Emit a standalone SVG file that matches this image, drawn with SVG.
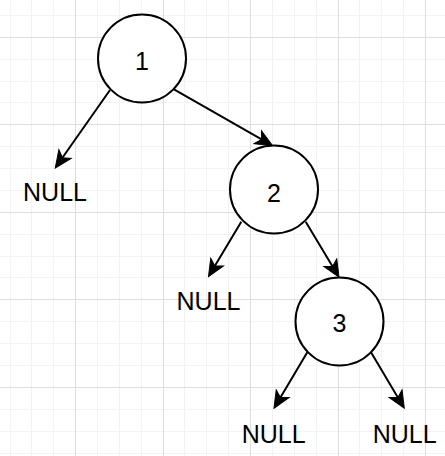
<svg xmlns="http://www.w3.org/2000/svg" width="445" height="456" viewBox="0 0 445 456">
<style>
.node circle{fill:#ffffff;stroke:#000000;stroke-width:2}
text{font-family:"Liberation Sans",Arial,sans-serif;font-size:25px;fill:#000000;text-anchor:middle}
.edge{stroke:#000000;stroke-width:2;fill:none;marker-end:url(#arrow)}
</style>
<defs>
<marker id="arrow" markerUnits="userSpaceOnUse" viewBox="-18 -9 19 18" markerWidth="19" markerHeight="18" refX="-10" refY="0" orient="auto">
<path d="M0,0 L-17,-7.5 L-12.5,0 L-17,7.5 Z" fill="#000000" stroke="#000000" stroke-width="1" stroke-linejoin="miter"/>
</marker>
</defs>
<rect width="445" height="456" fill="#ffffff"/>
<g id="grid">
<path stroke="#f3f3f3" stroke-width="1" fill="none" d="M10.5,0V456M31.5,0V456M53.5,0V456M97.5,0V456M119.5,0V456M141.5,0V456M184.5,0V456M206.5,0V456M228.5,0V456M272.5,0V456M294.5,0V456M316.5,0V456M359.5,0V456M381.5,0V456M403.5,0V456M0,15.5H445M0,59.5H445M0,81.5H445M0,102.5H445M0,146.5H445M0,168.5H445M0,190.5H445M0,234.5H445M0,256.5H445M0,277.5H445M0,321.5H445M0,343.5H445M0,365.5H445M0,409.5H445M0,431.5H445M0,453.5H445"/>
<path stroke="#dedede" stroke-width="1" fill="none" d="M75.5,0V456M163.5,0V456M250.5,0V456M338.5,0V456M425.5,0V456M0,37.5H445M0,124.5H445M0,212.5H445M0,299.5H445M0,387.5H445"/>
</g>
<g id="connectors">
<line class="edge" x1="110" y1="90" x2="61" y2="159.8"/>
<line class="edge" x1="174" y1="89.3" x2="263.8" y2="140.7"/>
<line class="edge" x1="241.3" y1="221.7" x2="213.6" y2="268.1"/>
<line class="edge" x1="305.7" y1="221.7" x2="333.9" y2="268.7"/>
<line class="edge" x1="307.3" y1="352.3" x2="279.1" y2="399.7"/>
<line class="edge" x1="371" y1="352.3" x2="399.2" y2="399.7"/>
</g>
<g id="node1" class="node"><circle cx="142" cy="58.5" r="44"/><text x="142" y="70">1</text></g>
<g id="node2" class="node"><circle cx="274" cy="189.5" r="44"/><text x="274" y="201.7">2</text></g>
<g id="node3" class="node"><circle cx="339.5" cy="321.5" r="44"/><text x="339.5" y="331.7">3</text></g>
<g id="null1"><text x="55" y="200.7">NULL</text></g>
<g id="null2"><text x="208.5" y="310">NULL</text></g>
<g id="null3"><text x="273.7" y="442.7">NULL</text></g>
<g id="null4"><text x="404.7" y="442.7">NULL</text></g>
</svg>
